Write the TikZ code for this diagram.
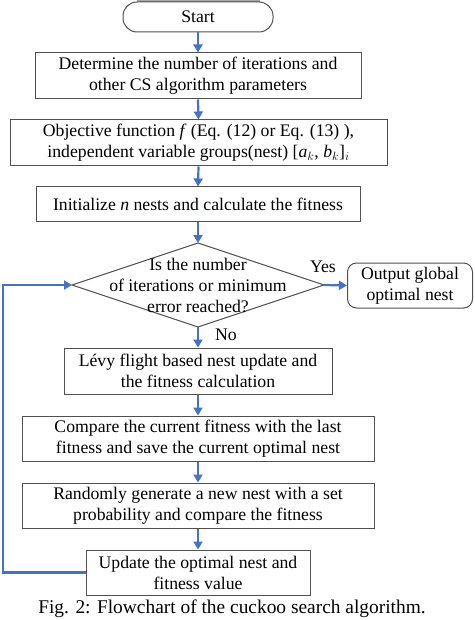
\documentclass[tikz,border=0pt]{standalone}
\usepackage{fontspec}
\setmainfont{Liberation Serif}
\usetikzlibrary{arrows.meta}
\definecolor{flowblue}{HTML}{4472C4}
\definecolor{boxline}{HTML}{505050}
\begin{document}
\begin{tikzpicture}[x=1pt,y=-1pt,
  every node/.style={font=\fontsize{17.7}{21}\selectfont, inner sep=0pt, align=center},
  procbox/.style={draw=boxline, line width=1pt, rectangle},
  termbox/.style={draw=boxline, line width=1pt, rectangle, rounded corners=14pt},
  outbox/.style={draw=boxline, line width=1pt, rectangle, rounded corners=9pt},
  flow/.style={draw=flowblue, line width=2.2pt, -{Triangle[length=8pt,width=9pt]}},
  lbl/.style={font=\fontsize{17.7}{21}\selectfont},
  captxt/.style={font=\fontsize{19.4}{23}\selectfont}
]
\useasboundingbox (0,0) rectangle (474,620);
\fill[gray!70] (137,0) rectangle (260,2.5);

\node[termbox, minimum width=150pt, minimum height=30pt] (start) at (198,17) {Start};
\node[procbox, minimum width=326pt, minimum height=46pt] (b1) at (198,76)
  {Determine the number of iterations and\\other CS algorithm parameters};
\node[procbox, minimum width=377pt, minimum height=46pt] (b2) at (198.5,143)
  {Objective function \textit{f} (Eq. (12) or Eq. (13) ),\\independent variable groups(nest) [\textit{a}$_{\scriptstyle k}$, \textit{b}$_{\scriptstyle k}$]$_{\scriptstyle i}$};
\node[procbox, minimum width=324pt, minimum height=34pt] (b3) at (198,204)
  {Initialize \textit{n} nests and calculate the fitness};

\coordinate (dc) at (198,285);
\coordinate (dt) at (198,243);
\coordinate (db) at (198,327);
\coordinate (dl) at (72,285);
\coordinate (dr) at (324,285);
\draw[boxline, line width=1pt] (dt) -- (dr) -- (db) -- (dl) -- cycle;
\node (dtext) at (dc) {Is the number\\of iterations or minimum\\error reached?};

\node[outbox, minimum width=125pt, minimum height=45pt] (out) at (410,285.5)
  {Output global\\optimal nest};

\node[procbox, minimum width=268pt, minimum height=46pt] (b4) at (198,371)
  {Lévy flight based nest update and\\the fitness calculation};
\node[procbox, minimum width=352pt, minimum height=45pt] (b5) at (198,438.5)
  {Compare the current fitness with the last\\fitness and save the current optimal nest};
\node[procbox, minimum width=352pt, minimum height=45pt] (b6) at (198,505.5)
  {Randomly generate a new nest with a set\\probability and compare the fitness};
\node[procbox, minimum width=224pt, minimum height=45pt] (b7) at (198,572.5)
  {Update the optimal nest and\\fitness value};

\node[captxt] (cap) at (232,609) {Fig. 2: Flowchart of the cuckoo search algorithm.};

\draw[flow] (start.south) -- (b1.north);
\draw[flow] (b1.south) -- (b2.north);
\draw[flow] (b2.south) -- (b3.north);
\draw[flow] (b3.south) -- (dt);
\draw[flow] (dr) -- (out.west);
\draw[flow] (db) -- (b4.north);
\draw[flow] (b4.south) -- (b5.north);
\draw[flow] (b5.south) -- (b6.north);
\draw[flow] (b6.south) -- (b7.north);
\coordinate (lb) at (3,572.5);
\coordinate (lt) at (3,285);
\draw[flow] (b7.west) -- (lb) -- (lt) -- (dl);

\node[lbl] (yes) at (323,267) {Yes};
\node[lbl] (no) at (226,335) {No};
\end{tikzpicture}
\end{document}
